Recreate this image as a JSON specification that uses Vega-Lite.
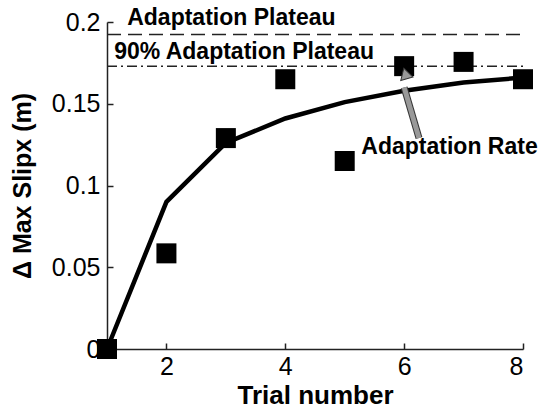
{
  "$schema": "https://vega.github.io/schema/vega-lite/v6.json",
  "width": 416,
  "height": 327,
  "autosize": "none",
  "padding": {"left": 107, "top": 22, "right": 27, "bottom": 66},
  "background": "white",
  "config": {
    "view": {"stroke": null},
    "font": "Liberation Sans",
    "axis": {
      "labelFont": "Liberation Sans",
      "titleFont": "Liberation Sans",
      "labelFontSize": 25,
      "titleFontSize": 25,
      "titleFontWeight": "bold",
      "labelColor": "black",
      "titleColor": "black",
      "domainColor": "#222222",
      "tickColor": "#222222",
      "domainWidth": 1.5,
      "tickWidth": 1.5,
      "grid": false
    }
  },
  "datasets": {
    "trials": [
      {"trial": 1, "slip": 0.0},
      {"trial": 2, "slip": 0.0585},
      {"trial": 3, "slip": 0.129},
      {"trial": 4, "slip": 0.165},
      {"trial": 5, "slip": 0.115},
      {"trial": 6, "slip": 0.173},
      {"trial": 7, "slip": 0.1756},
      {"trial": 8, "slip": 0.165}
    ],
    "fit": [
      {"trial": 1, "slip": 0.0},
      {"trial": 2, "slip": 0.09},
      {"trial": 3, "slip": 0.126},
      {"trial": 4, "slip": 0.141},
      {"trial": 5, "slip": 0.151},
      {"trial": 6, "slip": 0.158},
      {"trial": 7, "slip": 0.163},
      {"trial": 8, "slip": 0.166}
    ],
    "plateaus": [
      {"level": "plateau", "y": 0.1924, "from": 1, "to": 8},
      {"level": "ninety", "y": 0.173, "from": 1, "to": 8}
    ],
    "arrow": [
      {"x": 6.25, "y": 0.129, "x2": 6.0, "y2": 0.16}
    ],
    "arrowhead": [
      {"x": 6.02, "y": 0.1685}
    ],
    "labels": [
      {"x": 1.34, "y": 0.2026, "text": "Adaptation Plateau"},
      {"x": 1.12, "y": 0.1815, "text": "90% Adaptation Plateau"},
      {"x": 5.28, "y": 0.1235, "text": "Adaptation Rate"}
    ]
  },
  "layer": [
    {
      "data": {"name": "fit"},
      "mark": {"type": "line", "color": "black", "strokeWidth": 4.5},
      "encoding": {
        "x": {
          "field": "trial",
          "type": "quantitative",
          "scale": {"domain": [1, 8], "nice": false, "zero": false},
          "axis": {
            "title": "Trial number",
            "titleFontSize": 26,
            "values": [2, 4, 6, 8],
            "format": "d",
            "tickSize": -6,
            "labelPadding": 11,
            "titlePadding": 3
          }
        },
        "y": {
          "field": "slip",
          "type": "quantitative",
          "scale": {"domain": [0, 0.2], "nice": false},
          "axis": {
            "title": "Δ Max Slipx (m)",
            "values": [0, 0.05, 0.1, 0.15, 0.2],
            "labelExpr": "'' + datum.value",
            "tickSize": -6,
            "labelPadding": 13,
            "titlePadding": 16
          }
        }
      }
    },
    {
      "data": {"name": "plateaus"},
      "transform": [{"filter": "datum.level == 'plateau'"}],
      "mark": {"type": "rule", "color": "#222222", "strokeWidth": 1.5, "strokeDash": [14, 7]},
      "encoding": {
        "y": {"field": "y", "type": "quantitative"},
        "x": {"field": "from", "type": "quantitative"},
        "x2": {"field": "to"}
      }
    },
    {
      "data": {"name": "plateaus"},
      "transform": [{"filter": "datum.level == 'ninety'"}],
      "mark": {"type": "rule", "color": "#222222", "strokeWidth": 1.5, "strokeDash": [10, 4, 2, 4]},
      "encoding": {
        "y": {"field": "y", "type": "quantitative"},
        "x": {"field": "from", "type": "quantitative"},
        "x2": {"field": "to"}
      }
    },
    {
      "data": {"name": "trials"},
      "mark": {"type": "point", "shape": "square", "filled": true, "color": "black", "opacity": 1, "size": 400},
      "encoding": {
        "x": {"field": "trial", "type": "quantitative"},
        "y": {"field": "slip", "type": "quantitative"}
      }
    },
    {
      "data": {"name": "arrow"},
      "mark": {"type": "rule", "color": "#333333", "strokeWidth": 7},
      "encoding": {
        "x": {"field": "x", "type": "quantitative"},
        "y": {"field": "y", "type": "quantitative"},
        "x2": {"field": "x2"},
        "y2": {"field": "y2"}
      }
    },
    {
      "data": {"name": "arrow"},
      "mark": {"type": "rule", "color": "#999999", "strokeWidth": 5},
      "encoding": {
        "x": {"field": "x", "type": "quantitative"},
        "y": {"field": "y", "type": "quantitative"},
        "x2": {"field": "x2"},
        "y2": {"field": "y2"}
      }
    },
    {
      "data": {"name": "arrowhead"},
      "mark": {"type": "point", "shape": "triangle-up", "filled": true, "color": "#999999", "stroke": "#333333", "strokeWidth": 1, "opacity": 1, "size": 160, "angle": -16},
      "encoding": {
        "x": {"field": "x", "type": "quantitative"},
        "y": {"field": "y", "type": "quantitative"}
      }
    },
    {
      "data": {"name": "labels"},
      "mark": {"type": "text", "align": "left", "baseline": "middle", "fontSize": 23, "fontWeight": "bold", "color": "black"},
      "encoding": {
        "x": {"field": "x", "type": "quantitative"},
        "y": {"field": "y", "type": "quantitative"},
        "text": {"field": "text"}
      }
    }
  ]
}
